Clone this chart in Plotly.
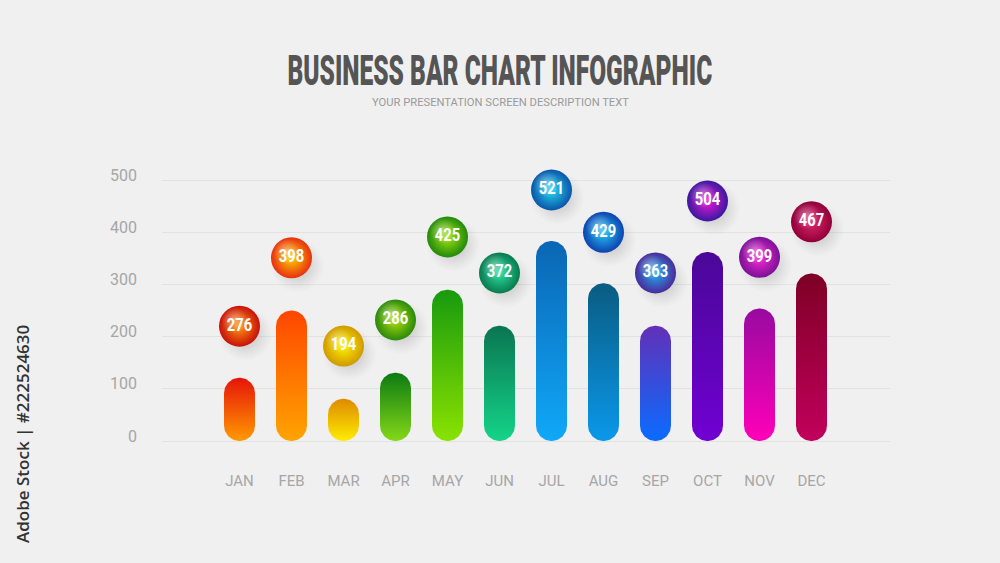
import numpy as np
import plotly.graph_objects as go

months = ["JAN", "FEB", "MAR", "APR", "MAY", "JUN", "JUL", "AUG", "SEP", "OCT", "NOV", "DEC"]
bar_values = [121, 250, 81, 131, 290, 221, 383, 302, 221, 362, 254, 321]
ball_values = [220, 351, 182, 232, 391, 322, 481, 400, 322, 460, 352, 420]
ball_labels = [276, 398, 194, 286, 425, 372, 521, 429, 363, 504, 399, 467]
y_ticks = [0, 100, 200, 300, 400, 500]

bar_top_colors = ["#e61408", "#ff4600", "#de8a00", "#0c7a12", "#189a0e", "#0a7552",
                  "#0a66b4", "#0a5c82", "#6230b8", "#4a0898", "#980aa0", "#7e0026"]
bar_bottom_colors = ["#ff9a00", "#ffa400", "#ffec00", "#84d818", "#8ae200", "#14d488",
                     "#10a8f8", "#0a98ea", "#0a6cff", "#7000d2", "#ff00b8", "#c2005c"]
ball_dark = ["#c8100a", "#e83010", "#d09a00", "#2a8a0a", "#208a0a", "#087a50",
             "#0a55a8", "#0c42b0", "#4a2a9a", "#3a18a0", "#7a1296", "#900038"]
ball_light = ["#ff9a10", "#ffd000", "#fff200", "#b0e010", "#a6e410", "#30e0a0",
              "#28d8f4", "#28c8f4", "#20b0f0", "#f018d8", "#ff28d8", "#e02870"]

PX_X = 52.0      # pixels per category unit
PX_Y = 0.522     # pixels per value unit
half_w = 15.5 / PX_X
cap = 15.5 / PX_Y

fig = go.Figure()

# pill-shaped gradient bars
for i, v in enumerate(bar_values):
    r = min(cap, v / 2)
    th_top = np.linspace(0, np.pi, 40)
    th_bot = np.linspace(np.pi, 2 * np.pi, 40)
    xs = np.concatenate([i + half_w * np.cos(th_top), i + half_w * np.cos(th_bot)])
    ys = np.concatenate([v - r + r * np.sin(th_top), r + r * np.sin(th_bot)])
    fig.add_trace(go.Scatter(
        x=xs, y=ys, fill="toself", mode="lines", line=dict(width=0),
        fillgradient=dict(type="vertical",
                          colorscale=[[0, bar_bottom_colors[i]], [1, bar_top_colors[i]]]),
        hoverinfo="skip", showlegend=False))

xi = np.arange(len(months))
bv = np.array(ball_values, dtype=float)

# ball shadows
fig.add_trace(go.Scatter(
    x=xi + 6 / PX_X, y=bv - 8 / PX_Y, mode="markers",
    marker=dict(size=54, color="rgba(120,120,120,0)",
                gradient=dict(type="radial", color="rgba(60,60,60,0.32)"),
                line=dict(width=0)),
    hoverinfo="skip", showlegend=False))

# balls
fig.add_trace(go.Scatter(
    x=xi, y=bv, mode="markers",
    marker=dict(size=41, color=ball_dark,
                gradient=dict(type="radial", color=ball_light),
                line=dict(width=0)),
    hoverinfo="skip", showlegend=False))

# glossy highlight (top-left)
fig.add_trace(go.Scatter(
    x=xi - 5 / PX_X, y=bv + 6 / PX_Y, mode="markers",
    marker=dict(size=26, color="rgba(255,255,255,0)",
                gradient=dict(type="radial", color="rgba(255,255,255,0.4)"),
                line=dict(width=0)),
    hoverinfo="skip", showlegend=False))

# ball labels
fig.add_trace(go.Scatter(
    x=xi, y=bv, mode="text", text=[str(t) for t in ball_labels],
    textposition="middle center",
    textfont=dict(family="Roboto, sans-serif", size=18, color="white", weight="bold"),
    hoverinfo="skip", showlegend=False))

L, R, T, B = 162, 890, 150, 450


def px_x(p):
    return (p - L) / (R - L)


def px_y(p):
    return (B - p) / (B - T)


annotations = [
    dict(text="BUSINESS BAR CHART INFOGRAPHIC", x=px_x(500), y=px_y(71),
         xref="paper", yref="paper", showarrow=False, xanchor="center", yanchor="middle",
         font=dict(family="Roboto, sans-serif", size=42, color="#555555", weight=900)),
    dict(text="YOUR PRESENTATION SCREEN DESCRIPTION TEXT", x=px_x(500), y=px_y(103),
         xref="paper", yref="paper", showarrow=False, xanchor="center", yanchor="middle",
         font=dict(family="Roboto, sans-serif", size=11.2, color="#9a9a9a")),
    dict(text="Adobe Stock | #222524630", x=px_x(22), y=px_y(434),
         xref="paper", yref="paper", showarrow=False, xanchor="center", yanchor="middle",
         textangle=-90,
         font=dict(family="Open Sans, sans-serif", size=17, color="#333333", weight=600)),
]

fig.update_layout(
    width=1000, height=563,
    margin=dict(l=L, r=1000 - R, t=T, b=563 - B),
    paper_bgcolor="#f0f0f0", plot_bgcolor="rgba(0,0,0,0)",
    showlegend=False,
    annotations=annotations,
    xaxis=dict(range=[(L - 239.5) / PX_X, (R - 239.5) / PX_X], showgrid=False, zeroline=False,
               showline=False, tickvals=list(range(len(months))), ticktext=months,
               tickfont=dict(family="Roboto, sans-serif", size=15, color="#a6a6a6"),
               ticks="", ticklabelstandoff=20, fixedrange=True),
    yaxis=dict(range=[-(B - 441) / PX_Y, (441 - T) / PX_Y], tickvals=y_ticks,
               showgrid=True, gridcolor="#e2e2e2", gridwidth=1, zeroline=False, showline=False,
               tickfont=dict(family="Roboto, sans-serif", size=16, color="#a6a6a6"),
               ticks="", ticklabelstandoff=24, ticklabelshift=-5, fixedrange=True),
)

post = """
var gd = document.getElementById('{plot_id}');
document.body.style.margin = '0';
document.body.style.background = '#f0f0f0';
function squeeze() {
  gd.querySelectorAll('.annotation-text').forEach(function (t) {
    if (t.textContent.indexOf('BUSINESS') === 0) {
      t.style.transform = '';
      var w = t.getBBox().width;
      t.style.transformBox = 'fill-box';
      t.style.transformOrigin = 'center';
      t.style.transform = 'scaleX(' + (425 / w) + ')';
    }
  });
  gd.querySelectorAll('.textpoint text').forEach(function (t) {
    t.style.transformBox = 'fill-box';
    t.style.transformOrigin = 'center';
    t.style.transform = 'scaleX(0.82)';
  });
}
squeeze();
gd.on('plotly_afterplot', squeeze);
"""

fig.write_html("out.html", post_script=post, config={"displayModeBar": False})
